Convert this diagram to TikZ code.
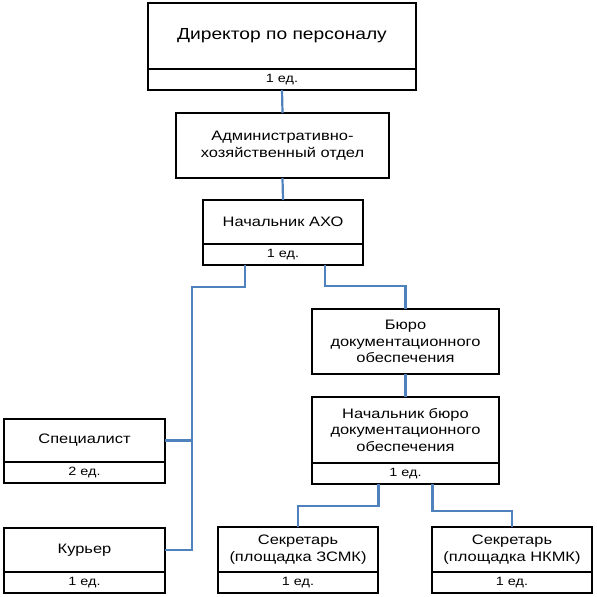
\documentclass[tikz,border=0pt]{standalone}
\usepackage{fontspec}
\setmainfont{Liberation Sans}[FakeStretch=1.2]
\usepackage{tikz}
\usepackage{xcolor}
\usetikzlibrary{positioning}
\definecolor{linkblue}{RGB}{79,129,189}

\begin{document}
\begin{tikzpicture}[x=1pt, y=-1pt,
  post/.style={draw, line width=1.8pt, outer sep=0pt, inner sep=0pt, align=center,
    font=\fontsize{13.7}{16.7}\selectfont},
  units/.style={draw, line width=1.8pt, outer sep=0pt, inner sep=0pt, minimum height=21pt,
    font=\fontsize{12}{14}\selectfont},
  link/.style={draw=linkblue, line width=2.2pt}]
  \useasboundingbox (0,0) rectangle (597,597);

  \node[post, minimum width=268pt, minimum height=66pt, font=\fontsize{16}{19}\selectfont] (dir) at (282,36) {Директор по персоналу};
  \node[post, minimum width=213pt, minimum height=65pt] (axo) at (282.5,145.5) {Административно-\\хозяйственный отдел};
  \node[post, minimum width=160pt, minimum height=44pt] (nachaxo) at (283,222) {Начальник АХО};
  \node[post, minimum width=187pt, minimum height=65pt] (bur) at (405.5,341.5) {Бюро\\документационного\\обеспечения};
  \node[post, minimum width=187pt, minimum height=66pt] (nachbur) at (405.5,430) {Начальник бюро\\документационного\\обеспечения};
  \node[post, minimum width=161pt, minimum height=43pt] (spec) at (84.5,440.5) {Специалист};
  \node[post, minimum width=161pt, minimum height=44pt] (kur) at (84.5,550) {Курьер};
  \node[post, minimum width=160pt, minimum height=45pt] (secz) at (298,549.5) {Секретарь\\(площадка ЗСМК)};
  \node[post, minimum width=160pt, minimum height=45pt] (secn) at (512,549.5) {Секретарь\\(площадка НКМК)};

  \foreach \n/\w/\c in {dir/268/1, nachaxo/160/1, nachbur/187/1, spec/161/2, kur/161/1, secz/160/1, secn/160/1}
    \node[units, minimum width=\w pt, below=0pt of \n] (\n N) {\c~ед.};

  \coordinate (trunk) at (192,287);

  \draw[link] (dirN.south) -- (axo.north);
  \draw[link] (axo.south) -- (nachaxo.north);
  \draw[link] ([xshift=-38pt]nachaxoN.south) |- (trunk) |- (kur.east);
  \draw[link] (spec.east) -- (spec.east -| trunk);
  \draw[link] ([xshift=42pt]nachaxoN.south) -- ++(0,21) -| (bur.north);
  \draw[link] (bur.south) -- (nachbur.north);
  \draw[link] ([xshift=-27pt]nachburN.south) -- ++(0,22) -| (secz.north);
  \draw[link] ([xshift=27pt]nachburN.south) -- ++(0,27) -| (secn.north);
\end{tikzpicture}
\end{document}
